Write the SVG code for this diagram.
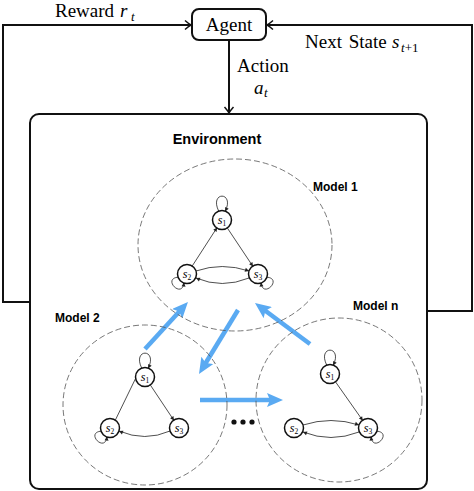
<svg xmlns="http://www.w3.org/2000/svg" width="474" height="491" viewBox="0 0 474 491">
<style>
.serif{font-family:"Liberation Serif","Times New Roman",serif;fill:#000}
.it{font-style:italic}
.sans{font-family:"Liberation Sans",Arial,sans-serif;font-weight:bold;fill:#000}
.main{fill:none;stroke:#111;stroke-width:2}
.model{fill:none;stroke:#555;stroke-width:0.8;stroke-dasharray:6 3}
.state{fill:#fff;stroke:#111;stroke-width:1.5}
.edge{fill:none;stroke:#222;stroke-width:0.8}
.blue{fill:none;stroke:#5aaaf2;stroke-width:4.5}
.sl{font-size:12px}
.ss{font-size:7.5px}
</style>
<defs>
<marker id="ah" markerUnits="userSpaceOnUse" viewBox="-8 -6 10 12" refX="0" refY="0" markerWidth="10" markerHeight="12" orient="auto">
<path d="M -6 -4.5 Q -2 -1 0 0 Q -2 1 -6 4.5" fill="none" stroke="#111" stroke-width="1.5"/>
</marker>
<marker id="sa" markerUnits="userSpaceOnUse" viewBox="-5 -3 6 6" refX="0" refY="0" markerWidth="6" markerHeight="6" orient="auto">
<path d="M -4 -2 L 0 0 L -4 2 z" fill="#222"/>
</marker>
<marker id="ba" markerUnits="userSpaceOnUse" viewBox="0 0 16 14" refX="6" refY="7" markerWidth="16" markerHeight="14" orient="auto">
<path d="M 0 0 L 16 7 L 0 14 L 3 7 z" fill="#5aaaf2"/>
</marker>
</defs>

<g id="connectors">
<path class="main" d="M 30 302 H 3 V 25 H 191" marker-end="url(#ah)"/>
<path class="main" d="M 427 311 H 472 V 25 H 267" marker-end="url(#ah)"/>
<path class="main" d="M 229 40 V 113" marker-end="url(#ah)"/>
<line class="blue" x1="145" y1="349" x2="181.2" y2="309.4" marker-end="url(#ba)"/>
<line class="blue" x1="238" y1="310" x2="204.2" y2="365.5" marker-end="url(#ba)"/>
<line class="blue" x1="200" y1="400" x2="273" y2="400" marker-end="url(#ba)"/>
<line class="blue" x1="310" y1="344" x2="263" y2="309" marker-end="url(#ba)"/>
</g>

<g id="agent">
<rect x="192" y="9" width="74" height="31" rx="7" fill="#fff" stroke="#111" stroke-width="2"/>
<text class="serif" x="229" y="31" font-size="19" text-anchor="middle">Agent</text>
</g>

<g id="labels">
<text class="serif" x="55" y="17" font-size="19">Reward</text>
<text class="serif it" x="120" y="17" font-size="19">r</text>
<text class="serif it" x="131" y="21" font-size="13">t</text>
<text class="serif" x="305" y="48" font-size="19" word-spacing="2">Next State</text>
<text class="serif it" x="392" y="48" font-size="19">s</text>
<text class="serif" x="401" y="52" font-size="13"><tspan class="it">t</tspan>+1</text>
<text class="serif" x="237" y="72" font-size="19">Action</text>
<text class="serif it" x="254" y="94" font-size="19">a</text>
<text class="serif it" x="264" y="97" font-size="13">t</text>
</g>

<g id="environment">
<rect x="30" y="114" width="397" height="375" rx="9" class="main"/>
<text class="sans" x="217" y="144" font-size="14.5" text-anchor="middle">Environment</text>
</g>

<g id="model1">
<ellipse class="model" cx="235" cy="245" rx="97" ry="86"/>
<text class="sans" x="313" y="191" font-size="12">Model 1</text>
<path class="edge" d="M 191.9 266.5 L 217.1 227.5" marker-end="url(#sa)"/>
<path class="edge" d="M 227 227.5 L 253 266.5" marker-end="url(#sa)"/>
<path class="edge" d="M 196 271 Q 222 262 249 271" marker-end="url(#sa)"/>
<path class="edge" d="M 249 278 Q 222 289 196 278" marker-end="url(#sa)"/>
<path class="edge" d="M 218.9 211.5 C 208.5 191 235.5 191 225.1 211.5" marker-end="url(#sa)"/>
<path class="edge" d="M 178.5 277.1 C 161.4 278.5 182.5 299.6 183.9 282.5" marker-end="url(#sa)"/>
<path class="edge" d="M 266.5 277.1 C 283.6 278.5 262.5 299.6 261.1 282.5" marker-end="url(#sa)"/>
<circle class="state" cx="222" cy="220" r="9.5"/>
<circle class="state" cx="187" cy="274" r="9.5"/>
<circle class="state" cx="258" cy="274" r="9.5"/>
<text class="serif" x="222" y="223.5" text-anchor="middle"><tspan class="it sl">s</tspan><tspan class="ss" dy="2">1</tspan></text>
<text class="serif" x="187" y="277.5" text-anchor="middle"><tspan class="it sl">s</tspan><tspan class="ss" dy="2">2</tspan></text>
<text class="serif" x="258" y="277.5" text-anchor="middle"><tspan class="it sl">s</tspan><tspan class="ss" dy="2">3</tspan></text>
</g>

<g id="model2">
<ellipse class="model" cx="145" cy="405" rx="82" ry="80"/>
<text class="sans" x="55" y="322" font-size="12">Model 2</text>
<path class="edge" d="M 115.1 420.6 L 139.9 369.6" marker-end="url(#sa)"/>
<path class="edge" d="M 150 384.5 L 174 420.5" marker-end="url(#sa)"/>
<path class="edge" d="M 170 431 Q 145 442 119 431" marker-end="url(#sa)"/>
<path class="edge" d="M 141.9 368.5 C 131.5 348 158.5 348 148.1 368.5" marker-end="url(#sa)"/>
<path class="edge" d="M 101.5 431.1 C 84.4 432.5 105.5 453.6 106.9 436.5" marker-end="url(#sa)"/>
<circle class="state" cx="145" cy="377" r="9.5"/>
<circle class="state" cx="110" cy="428" r="9.5"/>
<circle class="state" cx="179" cy="428" r="9.5"/>
<text class="serif" x="145" y="380.5" text-anchor="middle"><tspan class="it sl">s</tspan><tspan class="ss" dy="2">1</tspan></text>
<text class="serif" x="110" y="431.5" text-anchor="middle"><tspan class="it sl">s</tspan><tspan class="ss" dy="2">2</tspan></text>
<text class="serif" x="179" y="431.5" text-anchor="middle"><tspan class="it sl">s</tspan><tspan class="ss" dy="2">3</tspan></text>
</g>

<g id="modeln">
<ellipse class="model" cx="339" cy="400" rx="83" ry="82"/>
<text class="sans" x="353" y="310" font-size="12">Model n</text>
<path class="edge" d="M 335.2 381.4 L 362.8 420.6" marker-end="url(#sa)"/>
<path class="edge" d="M 303 425 Q 331 416 359 425" marker-end="url(#sa)"/>
<path class="edge" d="M 359 432 Q 331 443 303 432" marker-end="url(#sa)"/>
<path class="edge" d="M 326.9 365.5 C 316.5 345 343.5 345 333.1 365.5" marker-end="url(#sa)"/>
<path class="edge" d="M 376.5 431.1 C 393.6 432.5 372.5 453.6 371.1 436.5" marker-end="url(#sa)"/>
<circle class="state" cx="330" cy="374" r="9.5"/>
<circle class="state" cx="294" cy="428" r="9.5"/>
<circle class="state" cx="368" cy="428" r="9.5"/>
<text class="serif" x="330" y="377.5" text-anchor="middle"><tspan class="it sl">s</tspan><tspan class="ss" dy="2">1</tspan></text>
<text class="serif" x="294" y="431.5" text-anchor="middle"><tspan class="it sl">s</tspan><tspan class="ss" dy="2">2</tspan></text>
<text class="serif" x="368" y="431.5" text-anchor="middle"><tspan class="it sl">s</tspan><tspan class="ss" dy="2">3</tspan></text>
</g>

<g id="ellipsis">
<circle cx="234" cy="422" r="2.6" fill="#111"/>
<circle cx="243" cy="422" r="2.6" fill="#111"/>
<circle cx="252" cy="422" r="2.6" fill="#111"/>
</g>
</svg>
